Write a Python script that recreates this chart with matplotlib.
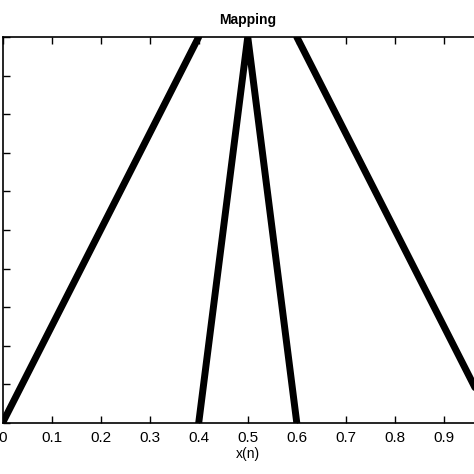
import matplotlib
matplotlib.use("Agg")
import matplotlib.pyplot as plt
import numpy as np

# Data: three mapping segments
left_x = [0.0, 0.4]
left_y = [0.0, 1.0]
mid_x = [0.4, 0.5, 0.6]
mid_y = [0.0, 1.0, 0.0]
right_x = [0.6, 1.0]
right_y = [1.0, 0.0]
xticks = [0, 0.1, 0.2, 0.3, 0.4, 0.5, 0.6, 0.7, 0.8, 0.9, 1]
xticklabels = ["0", "0.1", "0.2", "0.3", "0.4", "0.5", "0.6", "0.7", "0.8", "0.9", "1"]
yticks = [0, 0.1, 0.2, 0.3, 0.4, 0.5, 0.6, 0.7, 0.8, 0.9, 1]

plt.rcParams['font.family'] = ['Liberation Sans', 'DejaVu Sans']

fig = plt.figure(figsize=(4.74, 4.74), dpi=100)
ax = fig.add_axes([2.5 / 474, 51 / 474, 490.5 / 474, 386 / 474])

for xs, ys in [(left_x, left_y), (mid_x, mid_y), (right_x, right_y)]:
    ax.plot(xs, ys, color='black', linewidth=5, solid_capstyle='round')

ax.set_xlim(0, 1)
ax.set_ylim(0, 1)
ax.set_xticks(xticks)
ax.set_xticklabels(xticklabels)
ax.set_yticks(yticks)
ax.set_yticklabels([])
ax.tick_params(direction='in', top=True, right=True, length=5, width=1,
               labelsize=11, pad=6, colors='black')
for s in ax.spines.values():
    s.set_linewidth(1.2)
ax.set_title("Mapping", fontsize=10, fontweight='bold', pad=9)
ax.set_xlabel("x(n)", fontsize=10, labelpad=1)

fig.savefig("out.png", dpi=100)
